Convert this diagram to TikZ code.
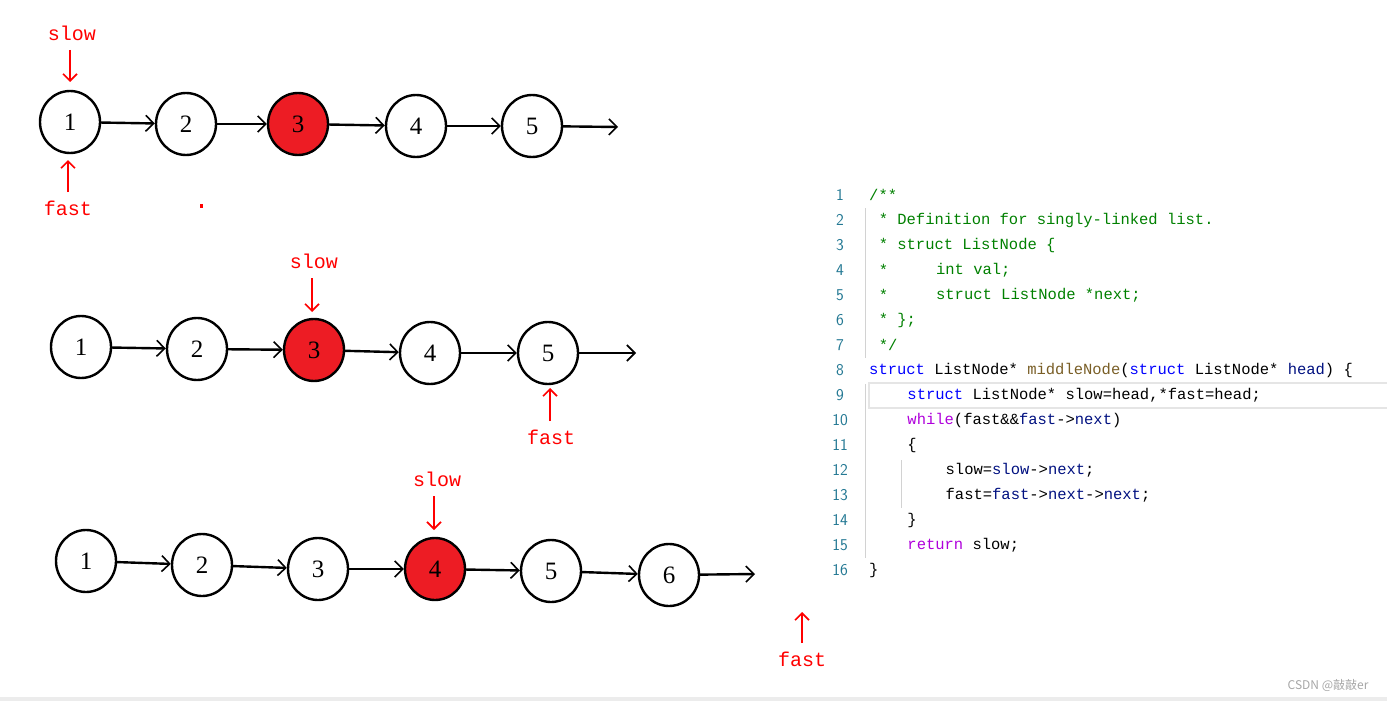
\documentclass[tikz,border=0pt]{standalone}
\usepackage{fontspec}
\setmonofont{Liberation Mono}
\newfontfamily\cjk{Noto Sans CJK SC}
\newfontfamily\numf{Liberation Serif}
\usetikzlibrary{shapes.geometric,arrows.meta}
\definecolor{cmt}{HTML}{008000}
\definecolor{kw}{HTML}{0000FF}
\definecolor{fn}{HTML}{795E26}
\definecolor{var}{HTML}{001080}
\definecolor{ctl}{HTML}{AF00DB}
\definecolor{lnum}{HTML}{237893}
\definecolor{nred}{HTML}{ED1C24}
\begin{document}
\begin{tikzpicture}[x=1pt,y=-1pt,
  ln/.style={ellipse,draw=black,line width=2.4pt,minimum width=60pt,minimum height=62pt,inner sep=0pt,font=\numf\fontsize{25}{25}\selectfont},
  hot/.style={ln,fill=nred},
  lk/.style={line width=2.4pt,-{Straight Barb[length=8pt,width=16pt,line width=1.6pt]}},
  lab/.style={text=red,font=\ttfamily\fontsize{20}{20}\selectfont},
  ptr/.style={red,line width=1.6pt,-{Straight Barb[length=7pt,width=14pt]}},
  code/.style={anchor=west,font=\ttfamily\fontsize{15.5}{15.5}\selectfont,inner sep=0pt},
  num/.style={anchor=center,text=lnum,font=\fontsize{16.5}{16.5}\selectfont\sffamily,inner sep=0pt}]
\useasboundingbox (0,0) rectangle (1387,701);
\fill[gray!15] (0,697) rectangle (1387,701);
% row 1
\node[ln] (a1) at (70,122) {1};
\node[ln] (a2) at (186,124) {2};
\node[hot] (a3) at (298,124) {3};
\node[ln] (a4) at (416,126) {4};
\node[ln] (a5) at (532,126) {5};
\coordinate (ae) at (618,127);
\draw[lk] (a1) -- (a2); \draw[lk] (a2) -- (a3); \draw[lk] (a3) -- (a4); \draw[lk] (a4) -- (a5); \draw[lk] (a5) -- (ae);
\node[lab] (s1) at (72,33) {slow};
\node[lab] (f1) at (68,208) {fast};
\coordinate (s1a) at (70,50); \coordinate (s1b) at (70,82);
\coordinate (f1a) at (68,192); \coordinate (f1b) at (68,160);
\draw[ptr] (s1a) -- (s1b);
\draw[ptr] (f1a) -- (f1b);
\fill[red] (200,204) rectangle (203,208);
% row 2
\node[ln] (b1) at (81,347) {1};
\node[ln] (b2) at (197,349) {2};
\node[hot] (b3) at (314,350) {3};
\node[ln] (b4) at (430,353) {4};
\node[ln] (b5) at (548,353) {5};
\coordinate (be) at (636,353);
\draw[lk] (b1) -- (b2); \draw[lk] (b2) -- (b3); \draw[lk] (b3) -- (b4); \draw[lk] (b4) -- (b5); \draw[lk] (b5) -- (be);
\node[lab] (s2) at (314,261) {slow};
\node[lab] (f2) at (551,437) {fast};
\coordinate (s2a) at (312,278); \coordinate (s2b) at (312,312);
\coordinate (f2a) at (550,421); \coordinate (f2b) at (550,388);
\draw[ptr] (s2a) -- (s2b);
\draw[ptr] (f2a) -- (f2b);
% row 3
\node[ln] (c1) at (86,561) {1};
\node[ln] (c2) at (202,565) {2};
\node[ln] (c3) at (318,569) {3};
\node[hot] (c4) at (435,569) {4};
\node[ln] (c5) at (551,571) {5};
\node[ln] (c6) at (669,575) {6};
\coordinate (ce) at (755,574);
\draw[lk] (c1) -- (c2); \draw[lk] (c2) -- (c3); \draw[lk] (c3) -- (c4); \draw[lk] (c4) -- (c5); \draw[lk] (c5) -- (c6); \draw[lk] (c6) -- (ce);
\node[lab] (s3) at (437,479) {slow};
\node[lab] (f3) at (802,659) {fast};
\coordinate (s3a) at (434,496); \coordinate (s3b) at (434,530);
\coordinate (f3a) at (802,643); \coordinate (f3b) at (802,612);
\draw[ptr] (s3a) -- (s3b);
\draw[ptr] (f3a) -- (f3b);
% code
\draw[gray!20,line width=1.5pt] (869,383) rectangle (1392,408);
\draw[gray!35,line width=0.8pt] (865,208) -- (865,358);
\draw[gray!35,line width=0.8pt] (865,384) -- (865,558);
\draw[gray!35,line width=0.8pt] (901,460) -- (901,508);
\foreach \i in {1,...,16} \node[num] at (840,170+25*\i) {\i};
\def\cw{9.56}
\node[code,text=cmt] at (869,195) {/**};
\node[code,text=cmt] at (869+\cw,220) {* Definition for singly-linked list.};
\node[code,text=cmt] at (869+\cw,245) {* struct ListNode \{};
\node[code,text=cmt] at (869+\cw,270) {*};
\node[code,text=cmt] at (869+7*\cw,270) {int val;};
\node[code,text=cmt] at (869+\cw,295) {*};
\node[code,text=cmt] at (869+7*\cw,295) {struct ListNode *next;};
\node[code,text=cmt] at (869+\cw,320) {* \};};
\node[code,text=cmt] at (869+\cw,345) {*/};
\node[code] at (869,370) {\textcolor{kw}{struct} ListNode* \textcolor{fn}{middleNode}(\textcolor{kw}{struct} ListNode* \textcolor{var}{head}) \{};
\node[code] at (869+4*\cw,395) {\textcolor{kw}{struct} ListNode* slow=head,*fast=head;};
\node[code] at (869+4*\cw,420) {\textcolor{ctl}{while}(fast\&\&\textcolor{var}{fast}->\textcolor{var}{next})};
\node[code] at (869+4*\cw,445) {\{};
\node[code] at (869+8*\cw,470) {slow=\textcolor{var}{slow}->\textcolor{var}{next};};
\node[code] at (869+8*\cw,495) {fast=\textcolor{var}{fast}->\textcolor{var}{next}->\textcolor{var}{next};};
\node[code] at (869+4*\cw,520) {\}};
\node[code] at (869+4*\cw,545) {\textcolor{ctl}{return} slow;};
\node[code] at (869,570) {\}};
\node[anchor=east,text=gray!70,font=\cjk\fontsize{12}{12}\selectfont] at (1372,685) {CSDN @敲敲er};
\end{tikzpicture}
\end{document}
